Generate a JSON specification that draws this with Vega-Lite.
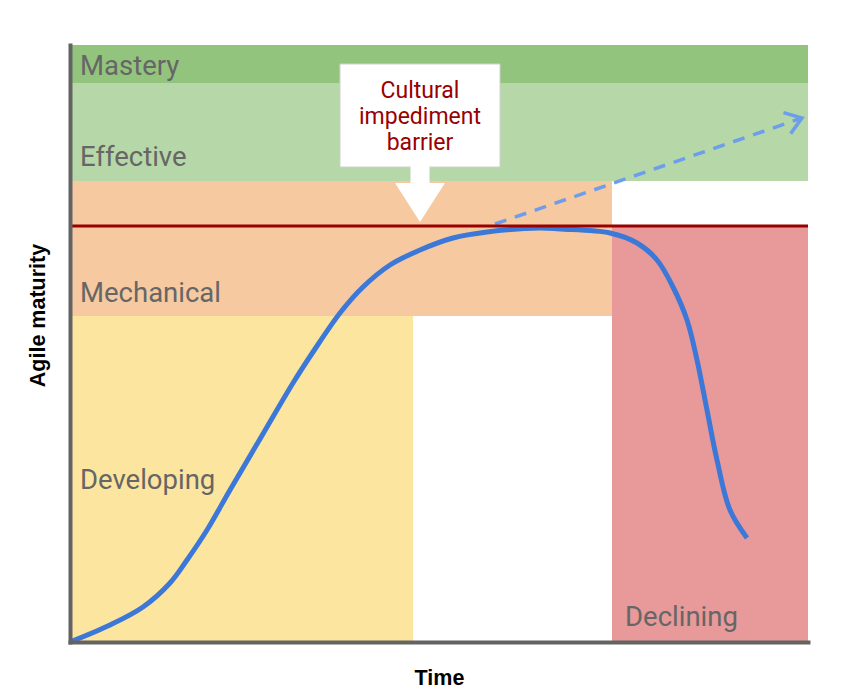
{
  "$schema": "https://vega.github.io/schema/vega-lite/v6.json",
  "width": 738,
  "height": 597,
  "autosize": {"type": "none"},
  "padding": {"left": 70, "top": 45, "right": 46, "bottom": 58},
  "background": "white",
  "config": {"view": {"stroke": null}},
  "datasets": {
    "bands": [
      {"name": "Mastery", "x": 0, "x2": 738, "y": 559, "y2": 597, "color": "#93c47d"},
      {"name": "Effective", "x": 0, "x2": 738, "y": 461, "y2": 559, "color": "#b6d7a8"},
      {"name": "Mechanical", "x": 0, "x2": 542, "y": 326, "y2": 461, "color": "#f6c9a0"},
      {"name": "Developing", "x": 0, "x2": 343, "y": 0, "y2": 326, "color": "#fce59f"},
      {"name": "Declining", "x": 542, "x2": 738, "y": 0, "y2": 416, "color": "#e79a99"}
    ],
    "barrier": [{"x": 0, "x2": 738, "y": 416}],
    "projection": [{"x": 425, "y": 418}, {"x": 732, "y": 524}],
    "arrowtip": [{"x": 732, "y": 524}],
    "curve": [
      {"x": 0, "y": 0}, {"x": 40, "y": 17}, {"x": 73, "y": 35}, {"x": 100, "y": 59},
      {"x": 117, "y": 82}, {"x": 137, "y": 112}, {"x": 160, "y": 152}, {"x": 190, "y": 203},
      {"x": 223, "y": 259}, {"x": 243, "y": 290}, {"x": 270, "y": 329},
      {"x": 293, "y": 355}, {"x": 320, "y": 377}, {"x": 350, "y": 392}, {"x": 383, "y": 404},
      {"x": 417, "y": 410}, {"x": 470, "y": 414}, {"x": 490, "y": 413}, {"x": 540, "y": 409},
      {"x": 567, "y": 399}, {"x": 587, "y": 382}, {"x": 603, "y": 355}, {"x": 617, "y": 322},
      {"x": 627, "y": 282}, {"x": 637, "y": 232}, {"x": 647, "y": 182}, {"x": 660, "y": 132},
      {"x": 677, "y": 104}
    ],
    "callout": [{"x": 270, "x2": 430, "y": 475, "y2": 578}],
    "calloutArrow": [{"x": 350, "y": 442}],
    "calloutText": [
      {"label": "Cultural", "x": 350, "y": 544},
      {"label": "impediment", "x": 350, "y": 518},
      {"label": "barrier", "x": 350, "y": 492}
    ],
    "labels": [
      {"label": "Mastery", "x": 10, "y": 567},
      {"label": "Effective", "x": 10, "y": 476},
      {"label": "Mechanical", "x": 10, "y": 340},
      {"label": "Developing", "x": 10, "y": 153},
      {"label": "Declining", "x": 555, "y": 16}
    ]
  },
  "encoding": {
    "x": {
      "field": "x", "type": "quantitative",
      "scale": {"domain": [0, 738], "nice": false, "zero": false},
      "axis": {
        "title": "Time", "labels": false, "ticks": false, "grid": false, "zindex": 1,
        "domainColor": "#636363", "domainWidth": 4, "domainCap": "square",
        "titleFont": "Liberation Sans", "titleFontSize": 21.5, "titleFontWeight": "bold",
        "titleColor": "black", "titlePadding": 25
      }
    },
    "y": {
      "field": "y", "type": "quantitative",
      "scale": {"domain": [0, 597], "nice": false, "zero": false},
      "axis": {
        "title": "Agile maturity", "labels": false, "ticks": false, "grid": false, "zindex": 1,
        "domainColor": "#636363", "domainWidth": 4, "domainCap": "square",
        "titleFont": "Liberation Sans", "titleFontSize": 21.5, "titleFontWeight": "bold",
        "titleColor": "black", "titleAngle": -90, "titleX": -21, "titleY": 270,
        "titleAlign": "center", "titleBaseline": "bottom"
      }
    }
  },
  "layer": [
    {
      "data": {"name": "bands"},
      "mark": {"type": "rect"},
      "encoding": {
        "x2": {"field": "x2"},
        "y2": {"field": "y2"},
        "color": {"field": "color", "type": "nominal", "scale": null}
      }
    },
    {
      "data": {"name": "projection"},
      "mark": {"type": "line", "color": "#6d9eeb", "strokeWidth": 3.5, "strokeDash": [12, 9], "strokeCap": "butt"},
      "encoding": {}
    },
    {
      "data": {"name": "arrowtip"},
      "mark": {"type": "point", "shape": "M -1 -0.7 L 0 0 L -1 0.7", "size": 1000, "filled": false, "stroke": "#6d9eeb", "strokeWidth": 3.5, "opacity": 1, "angle": 341, "strokeCap": "butt", "strokeJoin": "miter"},
      "encoding": {}
    },
    {
      "data": {"name": "curve"},
      "mark": {"type": "line", "color": "#3c78d8", "strokeWidth": 5, "interpolate": "catmull-rom", "strokeCap": "butt"},
      "encoding": {}
    },
    {
      "data": {"name": "barrier"},
      "mark": {"type": "rule", "color": "#990000", "strokeWidth": 3},
      "encoding": {"x2": {"field": "x2"}}
    },
    {
      "data": {"name": "callout"},
      "mark": {"type": "rect", "fill": "white", "stroke": "#d0d0d0", "strokeWidth": 1},
      "encoding": {"x2": {"field": "x2"}, "y2": {"field": "y2"}}
    },
    {
      "data": {"name": "calloutArrow"},
      "mark": {"type": "point", "shape": "M -0.317 -1.13 L 0.317 -1.13 L 0.317 -0.567 L 0.833 -0.567 L 0 0.733 L -0.833 -0.567 L -0.317 -0.567 Z", "size": 3600, "filled": true, "fill": "white", "strokeWidth": 0, "opacity": 1},
      "encoding": {}
    },
    {
      "data": {"name": "calloutText"},
      "mark": {"type": "text", "font": "Roboto", "fontSize": 23, "color": "#990000", "align": "center", "baseline": "alphabetic"},
      "encoding": {"text": {"field": "label"}}
    },
    {
      "data": {"name": "labels"},
      "mark": {"type": "text", "font": "Roboto", "fontSize": 27.5, "color": "#666666", "align": "left", "baseline": "alphabetic"},
      "encoding": {"text": {"field": "label"}}
    }
  ]
}
